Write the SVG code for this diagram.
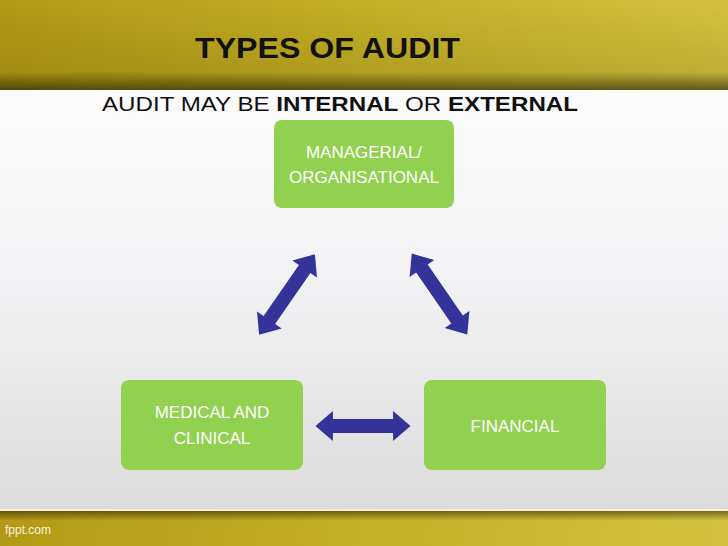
<svg xmlns="http://www.w3.org/2000/svg" width="728" height="546" viewBox="0 0 728 546">
<defs>
<linearGradient id="bg" x1="0" y1="0" x2="0" y2="1"><stop offset="0" stop-color="#ffffff"/><stop offset="0.5" stop-color="#f3f3f5"/><stop offset="1" stop-color="#d8d8d8"/></linearGradient>
<linearGradient id="gold" x1="0" y1="0" x2="1" y2="0"><stop offset="0" stop-color="#b39a14"/><stop offset="0.5" stop-color="#c4b024"/><stop offset="1" stop-color="#d4c23c"/></linearGradient>
<linearGradient id="shade" x1="0" y1="0" x2="0" y2="1"><stop offset="0" stop-color="#000" stop-opacity="0"/><stop offset="0.8" stop-color="#000" stop-opacity="0.1"/><stop offset="1" stop-color="#000" stop-opacity="0.55"/></linearGradient>
<linearGradient id="shade2" x1="0" y1="0" x2="0" y2="1"><stop offset="0" stop-color="#000" stop-opacity="0.5"/><stop offset="0.3" stop-color="#000" stop-opacity="0"/></linearGradient>
<polygon id="dbl" points="-49,0 -31,-15 -31,-7 31,-7 31,-15 49,0 31,15 31,7 -31,7 -31,15" fill="#333399"/>
</defs>
<style>
.box{fill:#92d050;}
.lbl{font-family:"Liberation Sans",Arial,sans-serif;font-size:17px;fill:#ffffff;text-anchor:middle;}
</style>
<rect width="728" height="546" fill="url(#bg)"/>
<rect width="728" height="90" fill="url(#gold)"/>
<rect width="728" height="90" fill="url(#shade)"/>
<rect y="510" width="728" height="36" fill="url(#gold)"/>
<rect y="510" width="728" height="36" fill="url(#shade2)"/>
<rect y="509" width="728" height="2" fill="#f4f0dc"/>
<text x="195" y="58" font-family="'Liberation Sans',Arial,sans-serif" font-size="29" font-weight="bold" textLength="265" lengthAdjust="spacingAndGlyphs" fill="#111">TYPES OF AUDIT</text>
<text x="102" y="111" font-family="'Liberation Sans',Arial,sans-serif" font-size="21" textLength="476" lengthAdjust="spacingAndGlyphs" fill="#111">AUDIT MAY BE <tspan font-weight="bold">INTERNAL</tspan> OR <tspan font-weight="bold">EXTERNAL</tspan></text>
<text x="5" y="534" font-family="'Liberation Sans',Arial,sans-serif" font-size="12" fill="#f4f0e0">fppt.com</text>
<g id="node-managerial"><rect class="box" x="274" y="120" width="180" height="88" rx="8"/><text class="lbl" x="364" y="158">MANAGERIAL/</text><text class="lbl" x="364" y="183">ORGANISATIONAL</text></g>
<g id="node-medical"><rect class="box" x="121" y="380" width="182" height="90" rx="8"/><text class="lbl" x="212" y="418">MEDICAL AND</text><text class="lbl" x="212" y="444">CLINICAL</text></g>
<g id="node-financial"><rect class="box" x="424" y="380" width="182" height="90" rx="8"/><text class="lbl" x="515" y="432">FINANCIAL</text></g>
<g id="connectors">
<use href="#dbl" transform="translate(287,294.5) rotate(-55.3)"/>
<use href="#dbl" transform="translate(439.5,294) rotate(55.5)"/>
<use href="#dbl" transform="translate(363,426) scale(0.97,1)"/>
</g>
</svg>
